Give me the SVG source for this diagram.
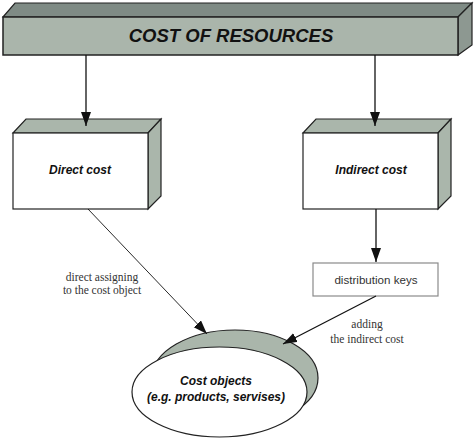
<svg xmlns="http://www.w3.org/2000/svg" width="474" height="441" viewBox="0 0 474 441">
<style>
.edge{stroke:#111;fill:none}
.front{fill:#ffffff;stroke:#222;stroke-width:1.2}
.side{fill:#aab6ab;stroke:#222;stroke-width:1.2}
.title{font-family:"Liberation Sans",Arial,sans-serif;font-weight:bold;font-style:italic;fill:#111}
.lbl{font-family:"Liberation Serif","Times New Roman",serif;font-size:11.5px;fill:#333;text-anchor:middle}
</style>
<defs>
<marker id="ah" markerUnits="userSpaceOnUse" markerWidth="15" markerHeight="11" refX="14" refY="5" orient="auto">
<path d="M0,0 L14,5 L0,10 z" fill="#111"/>
</marker>
</defs>
<rect width="474" height="441" fill="#ffffff"/>
<g id="cost-of-resources">
<polygon points="3,17 15,3 472,3 458,17" fill="#7f8b85" stroke="#222" stroke-width="1.2"/>
<polygon points="458,17 472,3 472,45 458,55" fill="#8d9891" stroke="#222" stroke-width="1.2"/>
<rect x="3" y="17" width="455" height="38" fill="#aab5ab" stroke="#222" stroke-width="1.5"/>
<text class="title" x="231" y="42" font-size="18.5" text-anchor="middle">COST OF RESOURCES</text>
</g>
<g id="direct-cost">
<polygon class="side" points="13,133 26,119 161,119 148,133"/>
<polygon class="side" points="148,133 161,119 161,196 148,209"/>
<rect class="front" x="13" y="133" width="135" height="76"/>
<text class="title" x="80" y="174" font-size="12" text-anchor="middle">Direct cost</text>
</g>
<g id="indirect-cost">
<polygon class="side" points="303,133 316,119 451,119 438,133"/>
<polygon class="side" points="438,133 451,119 451,196 438,209"/>
<rect class="front" x="303" y="133" width="135" height="76"/>
<text class="title" x="371" y="174" font-size="12" text-anchor="middle">Indirect cost</text>
</g>
<g id="distribution-keys">
<rect x="313" y="263" width="125" height="33" fill="#fff" stroke="#8a8a8a" stroke-width="1.2"/>
<text x="376" y="284" font-family="Liberation Sans,Arial,sans-serif" font-size="11.6" fill="#333" text-anchor="middle">distribution keys</text>
</g>
<g id="cost-objects">
<ellipse cx="235" cy="378" rx="83" ry="48" fill="#aab6ab" stroke="#222" stroke-width="1.2"/>
<ellipse cx="219.5" cy="392" rx="87.5" ry="45" fill="#fff" stroke="#222" stroke-width="1.2"/>
<text class="title" x="216" y="385" font-size="12" text-anchor="middle">Cost objects</text>
<text class="title" x="216" y="401" font-size="12" text-anchor="middle">(e.g. products, servises)</text>
</g>
<g id="connectors">
<line class="edge" x1="86" y1="55" x2="86" y2="126" stroke-width="1.3" marker-end="url(#ah)"/>
<line class="edge" x1="375" y1="55" x2="375" y2="126" stroke-width="1.3" marker-end="url(#ah)"/>
<line class="edge" x1="376" y1="209" x2="376" y2="262" stroke-width="1.3" marker-end="url(#ah)"/>
<line class="edge" x1="88" y1="209" x2="207" y2="334" stroke-width="0.9" marker-end="url(#ah)"/>
<line class="edge" x1="376" y1="296" x2="283" y2="344" stroke-width="1.1" marker-end="url(#ah)"/>
<text class="lbl" x="102" y="281">direct assigning</text>
<text class="lbl" x="102" y="294">to the cost object</text>
<text class="lbl" x="367" y="328">adding</text>
<text class="lbl" x="367" y="343">the indirect cost</text>
</g>
</svg>
